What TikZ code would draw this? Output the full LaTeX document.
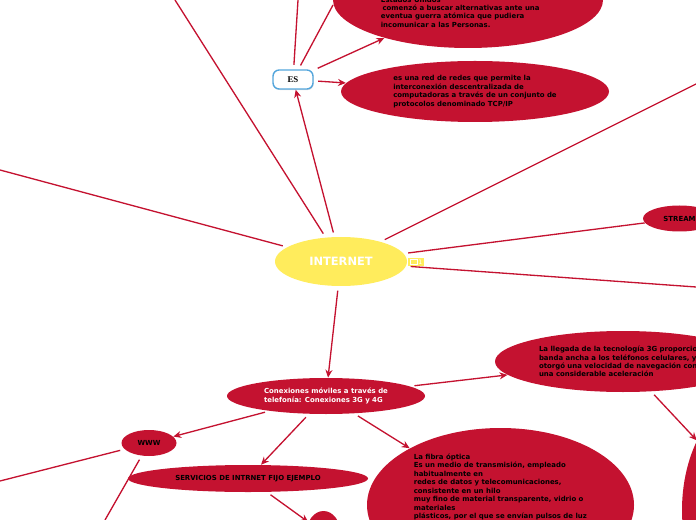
\documentclass[tikz,border=0pt]{standalone}
\usepackage{fontspec}
\usepackage{xcolor}
\usepackage{tikz}
\usetikzlibrary{calc, shapes.geometric, arrows.meta, shadows}

\newfontfamily\mapfont{DejaVu Sans}
\newfontfamily\esfont{Liberation Serif}

\definecolor{mapred}{RGB}{196,18,48}
\definecolor{mapyellow}{RGB}{255,236,92}
\definecolor{esblue}{RGB}{84,166,220}

\begin{document}
\begin{tikzpicture}[
    font=\mapfont\bfseries\fontsize{3.95}{4.8}\selectfont,
    blob/.style={ellipse, fill=mapred, inner sep=0pt, align=left},
    wblob/.style={blob, text=white},
    blobtext/.style={inner sep=0pt, align=left, anchor=north west},
    core/.style={ellipse, fill=mapyellow, text=white, inner sep=0pt,
        font=\mapfont\bfseries\fontsize{6.5}{7.8}\selectfont},
    esbox/.style={rectangle, rounded corners=3.5pt, draw=esblue, line width=0.8pt,
        fill=white, minimum width=0.8cm, minimum height=0.38cm, inner sep=0pt,
        font=\esfont\bfseries\fontsize{5}{6}\selectfont,
        drop shadow={opacity=0.25, shadow xshift=0.4pt, shadow yshift=-0.6pt}},
    badge/.style={rectangle, fill=mapyellow, minimum width=0.33cm, minimum height=0.18cm,
        inner sep=0pt, text=white, font=\mapfont\fontsize{3.5}{4}\selectfont},
    link/.style={draw=mapred, line width=0.75pt, shorten <=2.5pt},
    arrowlink/.style={link, -{Stealth[length=4.5pt, width=4pt]}}
]

    \useasboundingbox (0,0) rectangle (13.92,-10.4);

    % --- 1. Centre ---
    \node[core, minimum width=2.64cm, minimum height=0.98cm] (internet) at (6.82,-5.23) {INTERNET};
    \node[badge] (nota) at (8.32,-5.24)
        {{\fboxsep=0pt\fboxrule=0.3pt\fbox{\rule{0pt}{0.9mm}\hspace{1.3mm}}}\hspace{0.6pt}1};

    % --- 2. ES branch ---
    \node[esbox] (es) at (5.86,-1.59) {ES};
    \node[blob, minimum width=5.4cm, minimum height=1.92cm] (origen) at (9.36,0) {};
    \node[blobtext] (origen text) at (7.61,0.07) {Estados Unidos\\
        \hspace*{1pt}comenzó a buscar alternativas ante una\\
        eventua guerra atómica que pudiera\\
        incomunicar a las Personas.};
    \node[blob, minimum width=5.36cm, minimum height=1.22cm] (definicion) at (9.5,-1.83)
        {es una red de redes que permite la\\
         interconexión descentralizada de\\
         computadoras a través de un conjunto de\\
         protocolos denominado TCP/IP};

    % --- 3. Right side ---
    \node[blob, minimum width=1.46cm, minimum height=0.52cm] (stream) at (13.59,-4.37) {STREAM};

    % --- 4. Mobile branch ---
    \node[wblob, minimum width=3.96cm, minimum height=0.72cm] (conexiones) at (6.52,-7.92)
        {Conexiones móviles a través de\\telefonía: Conexiones 3G y 4G};
    \node[blob, minimum width=5.12cm, minimum height=1.22cm] (tresg) at (12.46,-7.23)
        {La llegada de la tecnología 3G proporcionó\\
         banda ancha a los teléfonos celulares, y\\
         otorgó una velocidad de navegación con\\
         una considerable aceleración};
    \node[blob, minimum width=3.2cm, minimum height=4.76cm] (cuatrog) at (15.24,-10.2) {};
    \node[blob, minimum width=1.1cm, minimum height=0.52cm] (www) at (2.98,-8.86) {WWW};
    \node[blob, minimum width=4.8cm, minimum height=0.54cm] (servicios) at (4.96,-9.57)
        {SERVICIOS DE INTRNET FIJO EJEMPLO};
    \node[blob, minimum width=0.68cm, minimum height=0.88cm] (fijo) at (6.47,-10.66) {};
    \node[blob, minimum width=5.34cm, minimum height=3.08cm] (fibra) at (10.01,-10.1) {};
    \node[blobtext] (fibra text) at (8.27,-9.07) {La fibra óptica\\
        Es un medio de transmisión, empleado\\
        habitualmente en\\
        redes de datos y telecomunicaciones,\\
        consistente en un hilo\\
        muy fino de material transparente, vidrio o\\
        materiales\\
        plásticos, por el que se envían pulsos de luz};

    % --- 5. Loose ends ---
    \coordinate (es up) at (5.96,0);
    \coordinate (es up right) at (6.66,-0.1);
    \coordinate (net up) at (3.5,0);
    \coordinate (net left) at (0,-3.4);
    \coordinate (net up right) at (13.92,-1.68);
    \coordinate (net right) at (13.92,-5.74);
    \coordinate (www left) at (0,-9.62);
    \coordinate (www down) at (2.1,-10.4);

    % --- 6. Connections ---
    \draw[arrowlink] (internet) -- (es);
    \draw[link] (es) -- (es up);
    \draw[link] (es) -- (es up right);
    \draw[arrowlink] (es) -- (origen);
    \draw[arrowlink] (es) -- (definicion);
    \draw[link] (internet) -- (net up);
    \draw[link] (internet) -- (net left);
    \draw[link] (internet) -- (net up right);
    \draw[link] (internet) -- (stream);
    \draw[link] (internet) -- (net right);
    \draw[arrowlink] (internet) -- (conexiones);
    \draw[arrowlink] (conexiones) -- (tresg);
    \draw[arrowlink] (conexiones) -- (www);
    \draw[arrowlink] (conexiones) -- (servicios);
    \draw[arrowlink] (conexiones) -- (fibra);
    \draw[arrowlink] (tresg) -- (cuatrog);
    \draw[arrowlink] (servicios) -- (fijo);
    \draw[link] (www) -- (www left);
    \draw[link] (www) -- (www down);

\end{tikzpicture}
\end{document}
